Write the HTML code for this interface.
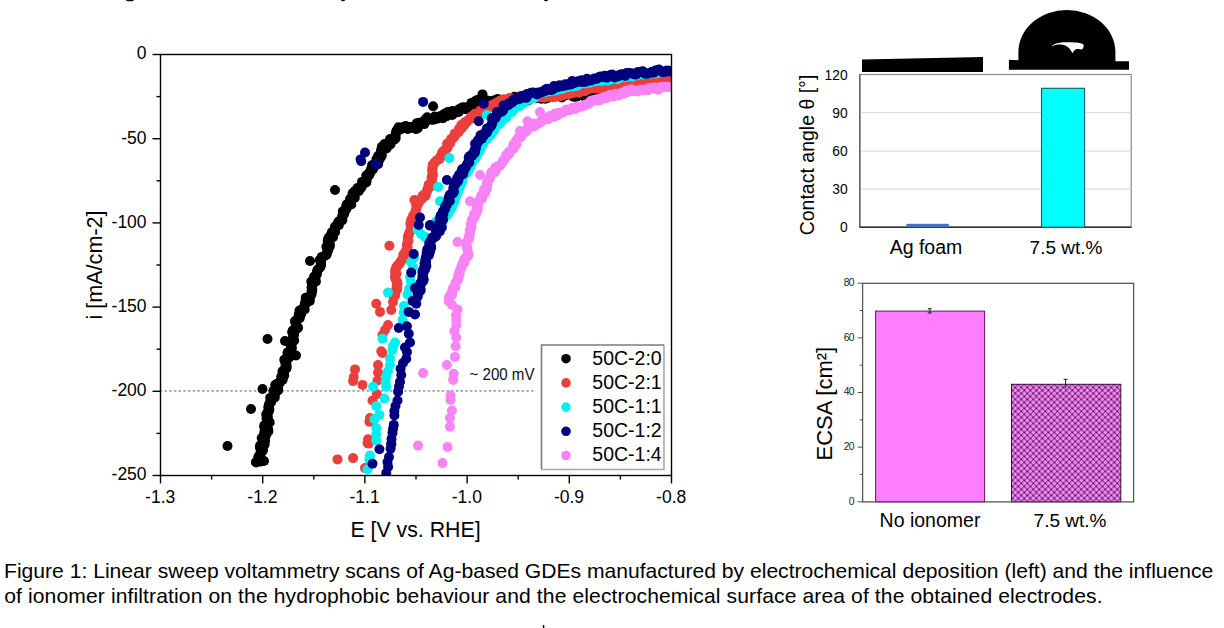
<!DOCTYPE html>
<html><head><meta charset="utf-8"><title>Figure 1</title>
<style>html,body{margin:0;padding:0;background:#fff;width:1224px;height:628px;overflow:hidden}
svg{display:block} text{font-family:"Liberation Sans",sans-serif}</style></head><body>
<svg width="1224" height="628" viewBox="0 0 1224 628">
<rect width="1224" height="628" fill="#fff"/>
<line x1="159.8" y1="390.8" x2="536" y2="390.8" stroke="#9a9fbd" stroke-width="1.8" stroke-dasharray="2.4 2.3"/>
<defs><clipPath id="plot"><rect x="160.5" y="54.5" width="511.0" height="421.0"/></clipPath></defs><g clip-path="url(#plot)">
<g fill="#000000"><circle cx="256.2" cy="462.5" r="5"/><circle cx="260.2" cy="461.6" r="5"/><circle cx="260.3" cy="459.6" r="5"/><circle cx="258.3" cy="457.0" r="5"/><circle cx="260.0" cy="455.5" r="5"/><circle cx="260.2" cy="453.6" r="5"/><circle cx="261.8" cy="452.0" r="5"/><circle cx="263.0" cy="450.3" r="5"/><circle cx="259.9" cy="447.5" r="5"/><circle cx="260.1" cy="445.5" r="5"/><circle cx="264.6" cy="444.6" r="5"/><circle cx="263.0" cy="442.3" r="5"/><circle cx="265.1" cy="440.8" r="5"/><circle cx="261.7" cy="438.0" r="5"/><circle cx="264.4" cy="436.6" r="5"/><circle cx="266.2" cy="435.0" r="5"/><circle cx="264.2" cy="432.6" r="5"/><circle cx="268.3" cy="431.4" r="5"/><circle cx="268.3" cy="429.5" r="5"/><circle cx="264.2" cy="427.0" r="5"/><circle cx="264.4" cy="425.3" r="5"/><circle cx="267.4" cy="423.9" r="5"/><circle cx="269.7" cy="422.4" r="5"/><circle cx="267.1" cy="420.2" r="5"/><circle cx="266.5" cy="418.3" r="5"/><circle cx="267.9" cy="416.7" r="5"/><circle cx="266.2" cy="414.5" r="5"/><circle cx="267.4" cy="412.9" r="5"/><circle cx="268.8" cy="411.3" r="5"/><circle cx="269.4" cy="409.6" r="5"/><circle cx="268.3" cy="407.6" r="5"/><circle cx="268.7" cy="405.5" r="5"/><circle cx="269.3" cy="403.7" r="5"/><circle cx="271.1" cy="402.3" r="5"/><circle cx="270.9" cy="400.2" r="5"/><circle cx="270.2" cy="397.9" r="5"/><circle cx="274.8" cy="397.5" r="5"/><circle cx="274.1" cy="395.2" r="5"/><circle cx="275.2" cy="393.5" r="5"/><circle cx="273.5" cy="390.9" r="5"/><circle cx="278.1" cy="390.5" r="5"/><circle cx="278.1" cy="388.4" r="5"/><circle cx="275.2" cy="385.1" r="5"/><circle cx="277.1" cy="383.8" r="5"/><circle cx="279.9" cy="382.8" r="5"/><circle cx="280.7" cy="381.0" r="5"/><circle cx="282.7" cy="379.7" r="5"/><circle cx="281.2" cy="376.7" r="5"/><circle cx="284.2" cy="375.5" r="5"/><circle cx="283.9" cy="373.5" r="5"/><circle cx="282.5" cy="371.2" r="5"/><circle cx="284.4" cy="369.8" r="5"/><circle cx="286.4" cy="368.4" r="5"/><circle cx="286.7" cy="366.6" r="5"/><circle cx="285.5" cy="364.3" r="5"/><circle cx="286.4" cy="362.6" r="5"/><circle cx="284.3" cy="359.9" r="5"/><circle cx="286.0" cy="358.3" r="5"/><circle cx="289.3" cy="357.4" r="5"/><circle cx="288.1" cy="354.9" r="5"/><circle cx="287.5" cy="352.6" r="5"/><circle cx="290.0" cy="351.3" r="5"/><circle cx="291.4" cy="349.7" r="5"/><circle cx="291.9" cy="347.7" r="5"/><circle cx="290.8" cy="345.5" r="5"/><circle cx="291.6" cy="343.8" r="5"/><circle cx="292.4" cy="342.0" r="5"/><circle cx="294.2" cy="340.5" r="5"/><circle cx="293.3" cy="338.4" r="5"/><circle cx="293.1" cy="336.4" r="5"/><circle cx="294.1" cy="334.7" r="5"/><circle cx="292.2" cy="332.3" r="5"/><circle cx="292.7" cy="330.6" r="5"/><circle cx="296.4" cy="329.3" r="5"/><circle cx="298.1" cy="327.7" r="5"/><circle cx="296.4" cy="325.5" r="5"/><circle cx="295.7" cy="323.4" r="5"/><circle cx="294.9" cy="321.3" r="5"/><circle cx="296.9" cy="319.8" r="5"/><circle cx="299.7" cy="318.3" r="5"/><circle cx="298.7" cy="316.8" r="5"/><circle cx="298.7" cy="314.6" r="5"/><circle cx="301.2" cy="313.9" r="5"/><circle cx="299.5" cy="310.6" r="5"/><circle cx="301.8" cy="309.8" r="5"/><circle cx="304.7" cy="309.5" r="5"/><circle cx="304.2" cy="306.9" r="5"/><circle cx="304.7" cy="305.0" r="5"/><circle cx="305.0" cy="302.9" r="5"/><circle cx="307.2" cy="302.1" r="5"/><circle cx="309.8" cy="300.9" r="5"/><circle cx="305.7" cy="297.7" r="5"/><circle cx="310.1" cy="297.1" r="5"/><circle cx="310.8" cy="295.4" r="5"/><circle cx="311.7" cy="293.7" r="5"/><circle cx="311.5" cy="291.7" r="5"/><circle cx="312.4" cy="290.0" r="5"/><circle cx="311.5" cy="287.8" r="5"/><circle cx="312.3" cy="286.1" r="5"/><circle cx="312.4" cy="284.1" r="5"/><circle cx="311.3" cy="281.6" r="5"/><circle cx="315.9" cy="281.4" r="5"/><circle cx="315.2" cy="279.0" r="5"/><circle cx="314.1" cy="276.5" r="5"/><circle cx="316.3" cy="275.3" r="5"/><circle cx="316.9" cy="273.5" r="5"/><circle cx="317.0" cy="271.4" r="5"/><circle cx="317.7" cy="269.6" r="5"/><circle cx="319.3" cy="268.2" r="5"/><circle cx="320.5" cy="266.6" r="5"/><circle cx="321.1" cy="264.8" r="5"/><circle cx="321.1" cy="262.7" r="5"/><circle cx="319.7" cy="260.1" r="5"/><circle cx="321.4" cy="258.7" r="5"/><circle cx="321.8" cy="256.9" r="5"/><circle cx="324.5" cy="256.0" r="5"/><circle cx="326.5" cy="254.8" r="5"/><circle cx="326.9" cy="252.9" r="5"/><circle cx="327.6" cy="251.2" r="5"/><circle cx="328.4" cy="249.5" r="5"/><circle cx="326.4" cy="246.7" r="5"/><circle cx="329.9" cy="246.1" r="5"/><circle cx="329.8" cy="244.0" r="5"/><circle cx="327.7" cy="241.1" r="5"/><circle cx="328.1" cy="239.3" r="5"/><circle cx="328.8" cy="237.5" r="5"/><circle cx="333.0" cy="237.2" r="5"/><circle cx="331.4" cy="234.3" r="5"/><circle cx="331.8" cy="232.3" r="5"/><circle cx="335.1" cy="232.0" r="5"/><circle cx="334.9" cy="229.6" r="5"/><circle cx="334.8" cy="227.1" r="5"/><circle cx="336.2" cy="225.7" r="5"/><circle cx="338.9" cy="225.1" r="5"/><circle cx="338.1" cy="222.4" r="5"/><circle cx="339.5" cy="220.9" r="5"/><circle cx="342.4" cy="220.1" r="5"/><circle cx="342.1" cy="217.8" r="5"/><circle cx="342.4" cy="215.7" r="5"/><circle cx="344.0" cy="214.2" r="5"/><circle cx="342.8" cy="211.4" r="5"/><circle cx="345.4" cy="210.5" r="5"/><circle cx="346.4" cy="208.7" r="5"/><circle cx="346.2" cy="206.4" r="5"/><circle cx="346.8" cy="204.4" r="5"/><circle cx="351.3" cy="204.5" r="5"/><circle cx="350.4" cy="201.8" r="5"/><circle cx="350.0" cy="199.1" r="5"/><circle cx="352.8" cy="198.8" r="5"/><circle cx="354.8" cy="197.8" r="5"/><circle cx="352.5" cy="193.9" r="5"/><circle cx="353.6" cy="192.3" r="5"/><circle cx="355.2" cy="191.1" r="5"/><circle cx="358.7" cy="191.3" r="5"/><circle cx="357.5" cy="188.0" r="5"/><circle cx="360.9" cy="188.1" r="5"/><circle cx="361.8" cy="186.4" r="5"/><circle cx="362.3" cy="184.4" r="5"/><circle cx="362.0" cy="181.9" r="5"/><circle cx="366.3" cy="182.4" r="5"/><circle cx="366.6" cy="180.3" r="5"/><circle cx="366.5" cy="177.9" r="5"/><circle cx="366.3" cy="175.5" r="5"/><circle cx="369.2" cy="175.1" r="5"/><circle cx="369.2" cy="172.7" r="5"/><circle cx="371.0" cy="171.6" r="5"/><circle cx="371.0" cy="169.3" r="5"/><circle cx="373.4" cy="168.6" r="5"/><circle cx="372.0" cy="165.3" r="5"/><circle cx="374.0" cy="164.6" r="5"/><circle cx="378.0" cy="164.3" r="5"/><circle cx="378.3" cy="162.4" r="5"/><circle cx="376.4" cy="159.4" r="5"/><circle cx="379.8" cy="158.9" r="5"/><circle cx="378.0" cy="156.0" r="5"/><circle cx="381.8" cy="155.6" r="5"/><circle cx="381.6" cy="153.5" r="5"/><circle cx="380.9" cy="151.0" r="5"/><circle cx="381.5" cy="149.0" r="5"/><circle cx="381.9" cy="146.8" r="5"/><circle cx="386.5" cy="148.4" r="5"/><circle cx="384.5" cy="144.1" r="5"/><circle cx="388.7" cy="145.4" r="5"/><circle cx="390.5" cy="144.5" r="5"/><circle cx="390.3" cy="141.8" r="5"/><circle cx="390.0" cy="139.0" r="5"/><circle cx="394.1" cy="139.8" r="5"/><circle cx="395.6" cy="138.4" r="5"/><circle cx="395.5" cy="136.0" r="5"/><circle cx="395.7" cy="133.8" r="5"/><circle cx="396.1" cy="131.7" r="5"/><circle cx="397.0" cy="130.0" r="5"/><circle cx="398.6" cy="127.2" r="5"/><circle cx="400.6" cy="129.5" r="5"/><circle cx="402.3" cy="128.1" r="5"/><circle cx="404.0" cy="126.7" r="5"/><circle cx="405.8" cy="126.1" r="5"/><circle cx="407.8" cy="128.9" r="5"/><circle cx="409.5" cy="126.9" r="5"/><circle cx="411.4" cy="127.8" r="5"/><circle cx="413.1" cy="126.7" r="5"/><circle cx="416.1" cy="129.1" r="5"/><circle cx="417.8" cy="128.1" r="5"/><circle cx="416.7" cy="123.3" r="5"/><circle cx="418.8" cy="122.9" r="5"/><circle cx="420.7" cy="122.4" r="5"/><circle cx="424.3" cy="124.1" r="5"/><circle cx="425.2" cy="122.1" r="5"/><circle cx="425.5" cy="119.2" r="5"/><circle cx="427.2" cy="117.3" r="5"/><circle cx="429.6" cy="119.3" r="5"/><circle cx="431.6" cy="119.7" r="5"/><circle cx="433.6" cy="119.8" r="5"/><circle cx="434.8" cy="116.5" r="5"/><circle cx="437.3" cy="118.8" r="5"/><circle cx="438.9" cy="117.5" r="5"/><circle cx="440.6" cy="116.0" r="5"/><circle cx="443.0" cy="118.2" r="5"/><circle cx="444.1" cy="114.0" r="5"/><circle cx="446.7" cy="116.1" r="5"/><circle cx="447.2" cy="112.3" r="5"/><circle cx="449.0" cy="112.0" r="5"/><circle cx="452.2" cy="114.9" r="5"/><circle cx="452.5" cy="110.9" r="5"/><circle cx="455.3" cy="112.8" r="5"/><circle cx="456.7" cy="111.4" r="5"/><circle cx="458.8" cy="111.9" r="5"/><circle cx="459.6" cy="108.9" r="5"/><circle cx="461.3" cy="108.1" r="5"/><circle cx="462.9" cy="107.2" r="5"/><circle cx="465.7" cy="109.3" r="5"/><circle cx="467.0" cy="107.3" r="5"/><circle cx="469.5" cy="108.2" r="5"/><circle cx="471.2" cy="107.2" r="5"/><circle cx="471.5" cy="102.9" r="5"/><circle cx="474.1" cy="104.1" r="5"/><circle cx="475.1" cy="101.3" r="5"/><circle cx="476.7" cy="100.2" r="5"/><circle cx="478.6" cy="99.7" r="5"/><circle cx="481.2" cy="102.9" r="5"/><circle cx="483.0" cy="102.6" r="5"/><circle cx="484.9" cy="102.8" r="5"/><circle cx="486.8" cy="100.4" r="5"/><circle cx="488.6" cy="101.8" r="5"/><circle cx="490.4" cy="102.8" r="5"/><circle cx="492.3" cy="100.7" r="5"/><circle cx="494.1" cy="101.8" r="5"/><circle cx="495.8" cy="100.1" r="5"/><circle cx="497.6" cy="99.1" r="5"/><circle cx="499.6" cy="99.9" r="5"/><circle cx="501.9" cy="102.9" r="5"/><circle cx="503.5" cy="101.0" r="5"/><circle cx="505.6" cy="102.6" r="5"/><circle cx="507.2" cy="100.0" r="5"/><circle cx="509.0" cy="98.8" r="5"/><circle cx="511.2" cy="101.2" r="5"/><circle cx="513.1" cy="101.2" r="5"/><circle cx="514.5" cy="96.8" r="5"/><circle cx="516.7" cy="100.0" r="5"/><circle cx="518.3" cy="96.8" r="5"/><circle cx="520.1" cy="96.7" r="5"/><circle cx="522.5" cy="100.4" r="5"/><circle cx="523.8" cy="95.8" r="5"/><circle cx="525.9" cy="96.7" r="5"/><circle cx="528.1" cy="100.4" r="5"/><circle cx="529.7" cy="97.3" r="5"/><circle cx="531.5" cy="95.5" r="5"/><circle cx="533.4" cy="95.6" r="5"/><circle cx="535.3" cy="95.8" r="5"/><circle cx="537.4" cy="98.3" r="5"/><circle cx="539.0" cy="94.8" r="5"/><circle cx="541.3" cy="98.8" r="5"/><circle cx="542.9" cy="95.9" r="5"/><circle cx="545.1" cy="98.8" r="5"/><circle cx="547.0" cy="98.3" r="5"/><circle cx="548.6" cy="94.9" r="5"/><circle cx="550.4" cy="94.6" r="5"/><circle cx="552.4" cy="95.5" r="5"/><circle cx="554.2" cy="93.4" r="5"/><circle cx="556.3" cy="96.1" r="5"/><circle cx="557.9" cy="92.8" r="5"/><circle cx="559.9" cy="92.5" r="5"/><circle cx="561.9" cy="97.4" r="5"/><circle cx="563.6" cy="93.8" r="5"/><circle cx="565.5" cy="95.2" r="5"/><circle cx="567.3" cy="94.4" r="5"/><circle cx="569.0" cy="93.6" r="5"/><circle cx="570.8" cy="92.2" r="5"/><circle cx="572.8" cy="96.5" r="5"/><circle cx="574.7" cy="96.7" r="5"/><circle cx="576.5" cy="96.6" r="5"/><circle cx="578.1" cy="92.1" r="5"/><circle cx="579.9" cy="92.5" r="5"/><circle cx="581.8" cy="94.5" r="5"/><circle cx="583.8" cy="96.3" r="5"/><circle cx="585.5" cy="94.0" r="5"/><circle cx="587.3" cy="94.6" r="5"/><circle cx="589.1" cy="94.4" r="5"/><circle cx="590.8" cy="92.2" r="5"/><circle cx="592.7" cy="93.6" r="5"/><circle cx="594.5" cy="92.3" r="5"/><circle cx="596.3" cy="91.9" r="5"/><circle cx="598.1" cy="90.9" r="5"/><circle cx="600" cy="93" r="5"/></g>
<g fill="#000000"><circle cx="335" cy="190" r="5"/><circle cx="433.1" cy="106.25" r="5"/><circle cx="310" cy="261" r="5"/><circle cx="267.5" cy="339" r="5"/><circle cx="285" cy="341" r="5"/><circle cx="296" cy="355.5" r="5"/><circle cx="262.5" cy="389" r="5"/><circle cx="251" cy="409" r="5"/><circle cx="227.5" cy="446" r="5"/><circle cx="256" cy="462" r="5"/><circle cx="264" cy="461" r="5"/><circle cx="482.5" cy="94.4" r="5"/></g>
<g fill="#eb3f3d"><circle cx="669.9" cy="78.4" r="5"/><circle cx="667.8" cy="78.7" r="5"/><circle cx="666.1" cy="81.2" r="5"/><circle cx="664.1" cy="81.4" r="5"/><circle cx="661.8" cy="79.7" r="5"/><circle cx="659.8" cy="80.2" r="5"/><circle cx="657.8" cy="80.6" r="5"/><circle cx="655.9" cy="81.8" r="5"/><circle cx="653.8" cy="81.3" r="5"/><circle cx="651.7" cy="81.6" r="5"/><circle cx="649.7" cy="81.9" r="5"/><circle cx="647.8" cy="83.2" r="5"/><circle cx="645.7" cy="82.7" r="5"/><circle cx="643.7" cy="83.1" r="5"/><circle cx="641.6" cy="82.5" r="5"/><circle cx="639.4" cy="82.0" r="5"/><circle cx="637.4" cy="82.4" r="5"/><circle cx="635.5" cy="83.7" r="5"/><circle cx="633.5" cy="84.2" r="5"/><circle cx="631.6" cy="84.9" r="5"/><circle cx="629.6" cy="85.7" r="5"/><circle cx="627.6" cy="86.0" r="5"/><circle cx="625.4" cy="85.1" r="5"/><circle cx="623.5" cy="85.8" r="5"/><circle cx="621.4" cy="85.8" r="5"/><circle cx="619.2" cy="84.8" r="5"/><circle cx="617.3" cy="86.0" r="5"/><circle cx="615.3" cy="86.1" r="5"/><circle cx="613.3" cy="87.2" r="5"/><circle cx="611.4" cy="88.0" r="5"/><circle cx="609.3" cy="87.5" r="5"/><circle cx="607.3" cy="88.2" r="5"/><circle cx="605.2" cy="87.5" r="5"/><circle cx="603.0" cy="86.5" r="5"/><circle cx="601.1" cy="87.6" r="5"/><circle cx="599.2" cy="89.1" r="5"/><circle cx="596.9" cy="87.5" r="5"/><circle cx="594.9" cy="88.0" r="5"/><circle cx="592.9" cy="88.4" r="5"/><circle cx="590.8" cy="88.4" r="5"/><circle cx="588.8" cy="89.2" r="5"/><circle cx="586.8" cy="89.5" r="5"/><circle cx="585.0" cy="91.1" r="5"/><circle cx="582.6" cy="89.9" r="5"/><circle cx="580.6" cy="90.4" r="5"/><circle cx="579.0" cy="92.8" r="5"/><circle cx="576.7" cy="91.8" r="5"/><circle cx="574.7" cy="92.3" r="5"/><circle cx="572.8" cy="93.3" r="5"/><circle cx="570.7" cy="93.6" r="5"/><circle cx="568.7" cy="94.1" r="5"/><circle cx="566.4" cy="93.4" r="5"/><circle cx="564.6" cy="94.9" r="5"/><circle cx="562.4" cy="94.5" r="5"/><circle cx="560.7" cy="96.2" r="5"/><circle cx="558.4" cy="95.3" r="5"/><circle cx="556.3" cy="95.6" r="5"/><circle cx="554.5" cy="97.2" r="5"/><circle cx="552.5" cy="97.3" r="5"/><circle cx="550.5" cy="96.3" r="5"/><circle cx="548.4" cy="96.6" r="5"/><circle cx="546.4" cy="97.1" r="5"/><circle cx="544.3" cy="97.7" r="5"/><circle cx="542.2" cy="97.3" r="5"/><circle cx="540.3" cy="96.2" r="5"/><circle cx="538.1" cy="97.4" r="5"/><circle cx="536.2" cy="95.4" r="5"/><circle cx="534.1" cy="96.9" r="5"/><circle cx="532.1" cy="95.1" r="5"/><circle cx="530.1" cy="96.5" r="5"/><circle cx="527.8" cy="95.1" r="5"/><circle cx="525.9" cy="96.1" r="5"/><circle cx="524.0" cy="96.9" r="5"/><circle cx="522.0" cy="97.2" r="5"/><circle cx="519.9" cy="97.1" r="5"/><circle cx="518.0" cy="97.6" r="5"/><circle cx="516.1" cy="98.6" r="5"/><circle cx="514.1" cy="99.2" r="5"/><circle cx="512.0" cy="98.7" r="5"/><circle cx="509.8" cy="98.0" r="5"/><circle cx="508.0" cy="99.1" r="5"/><circle cx="506.2" cy="100.8" r="5"/><circle cx="503.7" cy="99.2" r="5"/><circle cx="501.8" cy="100.4" r="5"/><circle cx="499.6" cy="100.8" r="5"/><circle cx="498.3" cy="103.4" r="5"/><circle cx="495.7" cy="103.0" r="5"/><circle cx="494.5" cy="105.5" r="5"/><circle cx="491.8" cy="105.0" r="5"/><circle cx="490.2" cy="106.8" r="5"/><circle cx="488.3" cy="107.8" r="5"/><circle cx="485.5" cy="107.2" r="5"/><circle cx="484.8" cy="110.0" r="5"/><circle cx="482.4" cy="110.2" r="5"/><circle cx="480.2" cy="110.6" r="5"/><circle cx="479.2" cy="113.0" r="5"/><circle cx="477.5" cy="114.2" r="5"/><circle cx="474.8" cy="113.8" r="5"/><circle cx="473.7" cy="115.9" r="5"/><circle cx="471.5" cy="116.4" r="5"/><circle cx="470.8" cy="118.9" r="5"/><circle cx="468.6" cy="119.8" r="5"/><circle cx="467.2" cy="121.6" r="5"/><circle cx="464.7" cy="122.2" r="5"/><circle cx="464.4" cy="124.9" r="5"/><circle cx="461.3" cy="125.1" r="5"/><circle cx="461.8" cy="128.3" r="5"/><circle cx="459.0" cy="128.8" r="5"/><circle cx="459.0" cy="131.6" r="5"/><circle cx="457.2" cy="132.9" r="5"/><circle cx="454.7" cy="133.6" r="5"/><circle cx="454.6" cy="136.4" r="5"/><circle cx="453.2" cy="137.9" r="5"/><circle cx="451.0" cy="139.0" r="5"/><circle cx="450.6" cy="141.1" r="5"/><circle cx="450.2" cy="143.3" r="5"/><circle cx="447.1" cy="143.7" r="5"/><circle cx="447.8" cy="146.6" r="5"/><circle cx="447.0" cy="148.5" r="5"/><circle cx="445.2" cy="149.7" r="5"/><circle cx="443.5" cy="151.1" r="5"/><circle cx="442.0" cy="152.6" r="5"/><circle cx="442.1" cy="155.3" r="5"/><circle cx="440.3" cy="156.7" r="5"/><circle cx="439.7" cy="158.8" r="5"/><circle cx="437.6" cy="159.9" r="5"/><circle cx="435.7" cy="161.2" r="5"/><circle cx="434.5" cy="162.9" r="5"/><circle cx="432.7" cy="164.8" r="5"/><circle cx="432.8" cy="166.9" r="5"/><circle cx="432.2" cy="168.9" r="5"/><circle cx="432.3" cy="171.0" r="5"/><circle cx="432.6" cy="173.1" r="5"/><circle cx="432.9" cy="175.3" r="5"/><circle cx="431.5" cy="177.1" r="5"/><circle cx="432.0" cy="179.3" r="5"/><circle cx="432.2" cy="181.7" r="5"/><circle cx="430.5" cy="183.3" r="5"/><circle cx="428.6" cy="184.8" r="5"/><circle cx="429.5" cy="187.5" r="5"/><circle cx="427.5" cy="189.0" r="5"/><circle cx="427.0" cy="191.2" r="5"/><circle cx="425.9" cy="193.0" r="5"/><circle cx="425.7" cy="195.7" r="5"/><circle cx="422.7" cy="195.6" r="5"/><circle cx="422.5" cy="198.4" r="5"/><circle cx="420.4" cy="199.2" r="5"/><circle cx="419.3" cy="201.0" r="5"/><circle cx="418.6" cy="203.2" r="5"/><circle cx="416.1" cy="203.7" r="5"/><circle cx="416.7" cy="206.0" r="5"/><circle cx="416.4" cy="208.1" r="5"/><circle cx="416.0" cy="210.1" r="5"/><circle cx="415.2" cy="212.1" r="5"/><circle cx="414.9" cy="214.1" r="5"/><circle cx="413.1" cy="215.9" r="5"/><circle cx="412.9" cy="218.0" r="5"/><circle cx="411.3" cy="219.7" r="5"/><circle cx="410.9" cy="221.8" r="5"/><circle cx="410.3" cy="223.8" r="5"/><circle cx="411.8" cy="226.3" r="5"/><circle cx="410.8" cy="228.3" r="5"/><circle cx="410.8" cy="230.5" r="5"/><circle cx="409.5" cy="232.3" r="5"/><circle cx="408.9" cy="234.4" r="5"/><circle cx="408.0" cy="236.3" r="5"/><circle cx="407.8" cy="238.4" r="5"/><circle cx="408.4" cy="240.8" r="5"/><circle cx="407.5" cy="242.7" r="5"/><circle cx="406.8" cy="244.7" r="5"/><circle cx="407.7" cy="247.1" r="5"/><circle cx="407.1" cy="249.1" r="5"/><circle cx="405.7" cy="251.0" r="5"/><circle cx="405.9" cy="253.5" r="5"/><circle cx="403.4" cy="254.5" r="5"/><circle cx="403.4" cy="257.0" r="5"/><circle cx="402.6" cy="259.0" r="5"/><circle cx="401.3" cy="260.8" r="5"/><circle cx="400.0" cy="262.5" r="5"/><circle cx="399.0" cy="264.4" r="5"/><circle cx="397.2" cy="265.8" r="5"/><circle cx="396.2" cy="267.7" r="5"/><circle cx="395.5" cy="269.4" r="5"/><circle cx="395.0" cy="271.7" r="5"/><circle cx="396.5" cy="273.7" r="5"/><circle cx="395.0" cy="276.1" r="5"/><circle cx="395.2" cy="278.3" r="5"/><circle cx="396.2" cy="280.3" r="5"/><circle cx="397.3" cy="282.3" r="5"/><circle cx="397.5" cy="284.5" r="5"/><circle cx="396.7" cy="286.5" r="5"/><circle cx="397.4" cy="289.0" r="5"/><circle cx="395.8" cy="290.8" r="5"/><circle cx="394.9" cy="292.8" r="5"/><circle cx="395.2" cy="295.2" r="5"/><circle cx="393.75" cy="297" r="5"/></g>
<g fill="#eb3f3d"><circle cx="389.4" cy="245.75" r="5"/><circle cx="414.4" cy="200" r="5"/><circle cx="376.25" cy="303.75" r="5"/><circle cx="380" cy="311.9" r="5"/><circle cx="393" cy="302" r="5"/><circle cx="391.25" cy="310" r="5"/><circle cx="388" cy="325" r="5"/><circle cx="382.5" cy="335" r="5"/><circle cx="381.25" cy="351.25" r="5"/><circle cx="382.5" cy="353" r="5"/><circle cx="378" cy="365" r="5"/><circle cx="378" cy="372.5" r="5"/><circle cx="355" cy="369.4" r="5"/><circle cx="353.75" cy="377" r="5"/><circle cx="353.1" cy="381.1" r="5"/><circle cx="362.5" cy="384.9" r="5"/><circle cx="377.5" cy="380.5" r="5"/><circle cx="376.9" cy="394.25" r="5"/><circle cx="372.5" cy="400.5" r="5"/><circle cx="370" cy="418" r="5"/><circle cx="369.4" cy="421.75" r="5"/><circle cx="368.1" cy="439.25" r="5"/><circle cx="368.75" cy="443.6" r="5"/><circle cx="337.5" cy="459.4" r="5"/><circle cx="353.1" cy="458.1" r="5"/><circle cx="365" cy="468.1" r="5"/><circle cx="367.5" cy="443.1" r="5"/><circle cx="385" cy="330" r="5"/></g>
<g fill="#00f0f0"><circle cx="670.1" cy="70.5" r="5"/><circle cx="667.5" cy="70.3" r="5"/><circle cx="665.0" cy="71.1" r="5"/><circle cx="662.5" cy="71.0" r="5"/><circle cx="660.0" cy="71.4" r="5"/><circle cx="657.6" cy="72.9" r="5"/><circle cx="655.2" cy="73.4" r="5"/><circle cx="652.4" cy="72.1" r="5"/><circle cx="650.1" cy="73.7" r="5"/><circle cx="647.6" cy="74.1" r="5"/><circle cx="644.8" cy="73.0" r="5"/><circle cx="642.5" cy="74.5" r="5"/><circle cx="639.9" cy="74.1" r="5"/><circle cx="637.5" cy="75.2" r="5"/><circle cx="635.0" cy="75.3" r="5"/><circle cx="632.6" cy="76.7" r="5"/><circle cx="630.0" cy="76.1" r="5"/><circle cx="627.4" cy="76.1" r="5"/><circle cx="625.0" cy="77.2" r="5"/><circle cx="622.4" cy="77.1" r="5"/><circle cx="619.9" cy="77.7" r="5"/><circle cx="617.6" cy="79.2" r="5"/><circle cx="614.9" cy="78.2" r="5"/><circle cx="612.5" cy="78.9" r="5"/><circle cx="610.1" cy="79.9" r="5"/><circle cx="607.6" cy="80.8" r="5"/><circle cx="604.9" cy="79.5" r="5"/><circle cx="602.5" cy="80.7" r="5"/><circle cx="599.9" cy="80.6" r="5"/><circle cx="597.4" cy="80.6" r="5"/><circle cx="594.9" cy="81.3" r="5"/><circle cx="592.4" cy="81.3" r="5"/><circle cx="590.0" cy="82.7" r="5"/><circle cx="587.4" cy="82.3" r="5"/><circle cx="585.0" cy="83.4" r="5"/><circle cx="582.4" cy="82.8" r="5"/><circle cx="579.8" cy="83.3" r="5"/><circle cx="577.7" cy="85.4" r="5"/><circle cx="575.2" cy="86.0" r="5"/><circle cx="572.6" cy="86.4" r="5"/><circle cx="569.8" cy="85.6" r="5"/><circle cx="567.5" cy="87.2" r="5"/><circle cx="564.9" cy="87.5" r="5"/><circle cx="562.6" cy="88.8" r="5"/><circle cx="560.0" cy="89.0" r="5"/><circle cx="557.6" cy="89.8" r="5"/><circle cx="555.1" cy="90.5" r="5"/><circle cx="552.5" cy="90.7" r="5"/><circle cx="550.0" cy="91.3" r="5"/><circle cx="547.3" cy="91.3" r="5"/><circle cx="544.9" cy="92.4" r="5"/><circle cx="542.3" cy="92.5" r="5"/><circle cx="539.7" cy="93.4" r="5"/><circle cx="537.2" cy="94.4" r="5"/><circle cx="535.3" cy="96.2" r="5"/><circle cx="533.5" cy="98.4" r="5"/><circle cx="530.6" cy="98.5" r="5"/><circle cx="528.2" cy="99.6" r="5"/><circle cx="526.0" cy="100.9" r="5"/><circle cx="524.0" cy="102.8" r="5"/><circle cx="521.6" cy="103.8" r="5"/><circle cx="519.8" cy="106.0" r="5"/><circle cx="516.9" cy="106.1" r="5"/><circle cx="514.9" cy="107.9" r="5"/><circle cx="513.4" cy="110.1" r="5"/><circle cx="511.9" cy="112.2" r="5"/><circle cx="508.9" cy="112.9" r="5"/><circle cx="506.8" cy="114.5" r="5"/><circle cx="506.2" cy="117.6" r="5"/><circle cx="503.3" cy="118.4" r="5"/><circle cx="502.0" cy="120.7" r="5"/><circle cx="500.5" cy="122.9" r="5"/><circle cx="498.4" cy="124.5" r="5"/><circle cx="495.8" cy="125.7" r="5"/><circle cx="494.1" cy="127.7" r="5"/><circle cx="494.0" cy="130.7" r="5"/><circle cx="491.6" cy="132.2" r="5"/><circle cx="491.0" cy="134.9" r="5"/><circle cx="488.4" cy="136.2" r="5"/><circle cx="487.5" cy="138.8" r="5"/><circle cx="485.1" cy="140.3" r="5"/><circle cx="483.5" cy="142.2" r="5"/><circle cx="482.7" cy="144.9" r="5"/><circle cx="480.4" cy="146.5" r="5"/><circle cx="480.2" cy="149.6" r="5"/><circle cx="479.2" cy="152.2" r="5"/><circle cx="476.9" cy="154.0" r="5"/><circle cx="476.4" cy="157.0" r="5"/><circle cx="474.7" cy="159.2" r="5"/><circle cx="473.0" cy="161.3" r="5"/><circle cx="471.2" cy="163.5" r="5"/><circle cx="470.6" cy="166.3" r="5"/><circle cx="469.6" cy="168.8" r="5"/><circle cx="466.9" cy="170.3" r="5"/><circle cx="466.6" cy="173.2" r="5"/><circle cx="464.2" cy="174.9" r="5"/><circle cx="463.1" cy="177.3" r="5"/><circle cx="462.7" cy="180.1" r="5"/><circle cx="461.6" cy="182.5" r="5"/><circle cx="460.6" cy="185.0" r="5"/><circle cx="459.4" cy="187.4" r="5"/><circle cx="458.6" cy="189.9" r="5"/><circle cx="457.7" cy="192.5" r="5"/><circle cx="456.7" cy="194.9" r="5"/><circle cx="455.1" cy="197.2" r="5"/><circle cx="455.0" cy="200.0" r="5"/><circle cx="454.0" cy="202.4" r="5"/><circle cx="452.3" cy="204.5" r="5"/><circle cx="452.0" cy="207.2" r="5"/><circle cx="450.7" cy="209.5" r="5"/><circle cx="448.3" cy="211.2" r="5"/><circle cx="448" cy="214" r="5"/></g>
<g fill="#00f0f0"><circle cx="425" cy="237" r="5"/><circle cx="421" cy="234" r="5"/><circle cx="414" cy="258" r="5"/><circle cx="411" cy="262" r="5"/><circle cx="413" cy="267" r="5"/><circle cx="410" cy="277" r="5"/><circle cx="411" cy="282" r="5"/><circle cx="409" cy="289" r="5"/><circle cx="407.5" cy="294.5" r="5"/><circle cx="404" cy="306" r="5"/><circle cx="449.4" cy="158.1" r="5"/><circle cx="438.1" cy="186.9" r="5"/><circle cx="440" cy="201.25" r="5"/><circle cx="446.25" cy="216.25" r="5"/><circle cx="436.25" cy="221.25" r="5"/><circle cx="417.5" cy="229.5" r="5"/><circle cx="486.9" cy="115" r="5"/><circle cx="388" cy="292.6" r="5"/><circle cx="442.5" cy="222" r="5"/><circle cx="403.75" cy="312.5" r="5"/><circle cx="402.5" cy="320" r="5"/><circle cx="382.5" cy="338.75" r="5"/><circle cx="395" cy="342.5" r="5"/><circle cx="392.5" cy="350" r="5"/><circle cx="390" cy="358.75" r="5"/><circle cx="390" cy="365" r="5"/><circle cx="386.25" cy="376.25" r="5"/><circle cx="373.1" cy="386.75" r="5"/><circle cx="385.6" cy="381.75" r="5"/><circle cx="386.25" cy="386.75" r="5"/><circle cx="384.4" cy="398.6" r="5"/><circle cx="376.25" cy="406.1" r="5"/><circle cx="379.4" cy="414.9" r="5"/><circle cx="374.4" cy="419.25" r="5"/><circle cx="376.25" cy="428" r="5"/><circle cx="376.25" cy="434.25" r="5"/><circle cx="376.25" cy="440.5" r="5"/><circle cx="370" cy="455.5" r="5"/><circle cx="369.4" cy="459.4" r="5"/><circle cx="367.5" cy="469.4" r="5"/><circle cx="393" cy="346" r="5"/><circle cx="388" cy="371" r="5"/></g>
<g fill="#00007e"><circle cx="670.1" cy="70.9" r="5"/><circle cx="668.3" cy="71.6" r="5"/><circle cx="666.4" cy="70.7" r="5"/><circle cx="664.7" cy="71.8" r="5"/><circle cx="663.0" cy="72.3" r="5"/><circle cx="661.0" cy="71.3" r="5"/><circle cx="659.0" cy="69.6" r="5"/><circle cx="657.3" cy="70.2" r="5"/><circle cx="655.5" cy="70.5" r="5"/><circle cx="653.9" cy="72.6" r="5"/><circle cx="652.0" cy="71.7" r="5"/><circle cx="650.3" cy="72.8" r="5"/><circle cx="648.5" cy="73.4" r="5"/><circle cx="646.7" cy="73.8" r="5"/><circle cx="644.9" cy="73.6" r="5"/><circle cx="642.8" cy="71.2" r="5"/><circle cx="641.1" cy="71.7" r="5"/><circle cx="639.3" cy="72.0" r="5"/><circle cx="637.5" cy="72.2" r="5"/><circle cx="635.9" cy="74.6" r="5"/><circle cx="634.1" cy="74.3" r="5"/><circle cx="632.2" cy="73.4" r="5"/><circle cx="630.3" cy="73.2" r="5"/><circle cx="628.5" cy="72.9" r="5"/><circle cx="626.7" cy="73.0" r="5"/><circle cx="625.1" cy="76.0" r="5"/><circle cx="623.2" cy="74.4" r="5"/><circle cx="621.3" cy="74.3" r="5"/><circle cx="619.6" cy="75.1" r="5"/><circle cx="618.0" cy="76.5" r="5"/><circle cx="616.0" cy="75.7" r="5"/><circle cx="614.4" cy="77.4" r="5"/><circle cx="612.1" cy="74.6" r="5"/><circle cx="610.4" cy="75.1" r="5"/><circle cx="608.7" cy="76.5" r="5"/><circle cx="607.0" cy="77.7" r="5"/><circle cx="604.9" cy="75.8" r="5"/><circle cx="603.3" cy="77.3" r="5"/><circle cx="601.3" cy="76.4" r="5"/><circle cx="599.5" cy="76.8" r="5"/><circle cx="597.9" cy="78.3" r="5"/><circle cx="596.1" cy="78.9" r="5"/><circle cx="594.2" cy="78.5" r="5"/><circle cx="592.5" cy="79.4" r="5"/><circle cx="590.8" cy="80.6" r="5"/><circle cx="588.9" cy="80.4" r="5"/><circle cx="586.9" cy="78.8" r="5"/><circle cx="585.5" cy="81.8" r="5"/><circle cx="583.7" cy="82.1" r="5"/><circle cx="581.5" cy="80.3" r="5"/><circle cx="580.0" cy="81.8" r="5"/><circle cx="577.9" cy="81.3" r="5"/><circle cx="576.2" cy="82.0" r="5"/><circle cx="574.5" cy="82.9" r="5"/><circle cx="572.1" cy="81.1" r="5"/><circle cx="571.0" cy="84.4" r="5"/><circle cx="569.0" cy="84.1" r="5"/><circle cx="567.3" cy="85.3" r="5"/><circle cx="565.1" cy="84.3" r="5"/><circle cx="563.6" cy="86.0" r="5"/><circle cx="561.7" cy="86.2" r="5"/><circle cx="559.6" cy="85.3" r="5"/><circle cx="558.1" cy="87.2" r="5"/><circle cx="556.1" cy="86.9" r="5"/><circle cx="554.0" cy="86.1" r="5"/><circle cx="552.9" cy="89.4" r="5"/><circle cx="551.2" cy="90.0" r="5"/><circle cx="549.2" cy="90.0" r="5"/><circle cx="546.9" cy="88.7" r="5"/><circle cx="545.2" cy="89.7" r="5"/><circle cx="543.8" cy="91.6" r="5"/><circle cx="542.0" cy="91.8" r="5"/><circle cx="540.3" cy="92.9" r="5"/><circle cx="538.3" cy="92.4" r="5"/><circle cx="536.9" cy="94.4" r="5"/><circle cx="534.4" cy="92.7" r="5"/><circle cx="532.4" cy="92.5" r="5"/><circle cx="530.6" cy="92.9" r="5"/><circle cx="529.0" cy="94.2" r="5"/><circle cx="526.9" cy="94.0" r="5"/><circle cx="526.4" cy="97.8" r="5"/><circle cx="524.4" cy="97.6" r="5"/><circle cx="521.8" cy="96.0" r="5"/><circle cx="520.3" cy="97.3" r="5"/><circle cx="519.1" cy="99.2" r="5"/><circle cx="516.7" cy="98.1" r="5"/><circle cx="515.4" cy="99.9" r="5"/><circle cx="513.4" cy="99.9" r="5"/><circle cx="512.4" cy="102.3" r="5"/><circle cx="510.9" cy="103.3" r="5"/><circle cx="508.9" cy="103.2" r="5"/><circle cx="508.2" cy="105.2" r="5"/><circle cx="506.3" cy="105.8" r="5"/><circle cx="503.5" cy="105.4" r="5"/><circle cx="503.6" cy="108.3" r="5"/><circle cx="503.0" cy="110.4" r="5"/><circle cx="501.5" cy="111.6" r="5"/><circle cx="499.8" cy="112.4" r="5"/><circle cx="497.0" cy="112.0" r="5"/><circle cx="496.7" cy="114.3" r="5"/><circle cx="495.9" cy="116.0" r="5"/><circle cx="495.6" cy="118.0" r="5"/><circle cx="491.8" cy="118.0" r="5"/><circle cx="492.6" cy="120.7" r="5"/><circle cx="492.3" cy="122.7" r="5"/><circle cx="491.8" cy="124.6" r="5"/><circle cx="490.8" cy="126.3" r="5"/><circle cx="489.5" cy="127.7" r="5"/><circle cx="487.0" cy="128.4" r="5"/><circle cx="487.4" cy="131.0" r="5"/><circle cx="486.6" cy="132.8" r="5"/><circle cx="484.2" cy="133.4" r="5"/><circle cx="483.8" cy="135.4" r="5"/><circle cx="480.5" cy="135.3" r="5"/><circle cx="481.9" cy="138.7" r="5"/><circle cx="479.6" cy="139.4" r="5"/><circle cx="477.8" cy="140.4" r="5"/><circle cx="477.8" cy="142.6" r="5"/><circle cx="475.1" cy="143.7" r="5"/><circle cx="475.9" cy="146.3" r="5"/><circle cx="475.8" cy="148.5" r="5"/><circle cx="474.5" cy="150.1" r="5"/><circle cx="474.9" cy="152.6" r="5"/><circle cx="472.7" cy="153.9" r="5"/><circle cx="472.3" cy="155.8" r="5"/><circle cx="469.4" cy="156.2" r="5"/><circle cx="468.7" cy="157.8" r="5"/><circle cx="468.8" cy="160.0" r="5"/><circle cx="469.3" cy="162.4" r="5"/><circle cx="467.6" cy="163.6" r="5"/><circle cx="466.7" cy="165.2" r="5"/><circle cx="465.9" cy="166.7" r="5"/><circle cx="465.0" cy="168.5" r="5"/><circle cx="462.0" cy="169.2" r="5"/><circle cx="463.5" cy="172.2" r="5"/><circle cx="462.9" cy="174.1" r="5"/><circle cx="459.2" cy="174.5" r="5"/><circle cx="459.4" cy="176.9" r="5"/><circle cx="457.2" cy="178.0" r="5"/><circle cx="458.2" cy="180.7" r="5"/><circle cx="455.7" cy="181.7" r="5"/><circle cx="455.6" cy="183.9" r="5"/><circle cx="454.2" cy="185.4" r="5"/><circle cx="453.5" cy="187.3" r="5"/><circle cx="453.4" cy="189.5" r="5"/><circle cx="453.9" cy="191.7" r="5"/><circle cx="452.9" cy="193.5" r="5"/><circle cx="450.0" cy="194.6" r="5"/><circle cx="449.3" cy="196.4" r="5"/><circle cx="448.5" cy="198.3" r="5"/><circle cx="449.9" cy="200.8" r="5"/><circle cx="448.3" cy="202.2" r="5"/><circle cx="446.9" cy="203.6" r="5"/><circle cx="446.5" cy="205.5" r="5"/><circle cx="445.1" cy="206.8" r="5"/><circle cx="445.1" cy="208.9" r="5"/><circle cx="443.8" cy="210.3" r="5"/><circle cx="442.8" cy="211.8" r="5"/><circle cx="443.3" cy="213.9" r="5"/><circle cx="440.7" cy="215.4" r="5"/><circle cx="440.3" cy="217.3" r="5"/><circle cx="443.1" cy="219.7" r="5"/><circle cx="439.6" cy="221.1" r="5"/><circle cx="439.3" cy="223.0" r="5"/><circle cx="440.0" cy="225.1" r="5"/><circle cx="441.9" cy="227.4" r="5"/><circle cx="438.9" cy="228.1" r="5"/><circle cx="439.8" cy="231.4" r="5"/><circle cx="436.2" cy="230.9" r="5"/><circle cx="435.8" cy="233.1" r="5"/><circle cx="436.2" cy="236.0" r="5"/><circle cx="434.7" cy="237.3" r="5"/><circle cx="432.0" cy="237.8" r="5"/><circle cx="431.6" cy="239.8" r="5"/><circle cx="430.4" cy="241.6" r="5"/><circle cx="429.2" cy="243.3" r="5"/><circle cx="431.0" cy="246.0" r="5"/><circle cx="431.1" cy="248.1" r="5"/><circle cx="427.3" cy="249.2" r="5"/><circle cx="430.1" cy="251.6" r="5"/><circle cx="426.7" cy="252.8" r="5"/><circle cx="429.0" cy="255.1" r="5"/><circle cx="426.2" cy="256.4" r="5"/><circle cx="426.0" cy="258.2" r="5"/><circle cx="425.3" cy="259.9" r="5"/><circle cx="426.1" cy="262.0" r="5"/><circle cx="424.5" cy="263.5" r="5"/><circle cx="426.4" cy="266.0" r="5"/><circle cx="424.2" cy="267.5" r="5"/><circle cx="425.0" cy="269.6" r="5"/><circle cx="422.5" cy="271.0" r="5"/><circle cx="422.5" cy="273.0" r="5"/><circle cx="423.1" cy="275.1" r="5"/><circle cx="422.4" cy="277.0" r="5"/><circle cx="423.7" cy="279.2" r="5"/><circle cx="423.3" cy="281.0" r="5"/><circle cx="420.9" cy="282.4" r="5"/><circle cx="420.9" cy="284.3" r="5"/><circle cx="419.1" cy="285.9" r="5"/><circle cx="419.6" cy="287.9" r="5"/><circle cx="420.8" cy="290.1" r="5"/><circle cx="419.5" cy="291.7" r="5"/><circle cx="417.6" cy="293.1" r="5"/><circle cx="417.9" cy="295.2" r="5"/><circle cx="417.5" cy="297" r="5"/></g>
<g fill="#00007e"><circle cx="483.75" cy="103.75" r="5"/><circle cx="478.75" cy="121.25" r="5"/><circle cx="446.9" cy="180" r="5"/><circle cx="420" cy="217.5" r="5"/><circle cx="430" cy="225" r="5"/><circle cx="440" cy="226.25" r="5"/><circle cx="418.75" cy="225" r="5"/><circle cx="430" cy="225.75" r="5"/><circle cx="413.75" cy="254" r="5"/><circle cx="411.25" cy="272.6" r="5"/><circle cx="415" cy="288" r="5"/><circle cx="416.25" cy="303.75" r="5"/><circle cx="412.5" cy="301" r="5"/><circle cx="408.75" cy="311.9" r="5"/><circle cx="415" cy="314.4" r="5"/><circle cx="398.75" cy="328" r="5"/><circle cx="406.9" cy="326.25" r="5"/><circle cx="408.75" cy="333.75" r="5"/><circle cx="410" cy="342.5" r="5"/><circle cx="405" cy="347.5" r="5"/><circle cx="406.25" cy="358.75" r="5"/><circle cx="400.6" cy="368.75" r="5"/><circle cx="401.25" cy="375" r="5"/><circle cx="400" cy="381.75" r="5"/><circle cx="398.1" cy="391.75" r="5"/><circle cx="397.5" cy="400.5" r="5"/><circle cx="394.4" cy="411.1" r="5"/><circle cx="394.4" cy="415.5" r="5"/><circle cx="393.75" cy="424.9" r="5"/><circle cx="392.5" cy="433" r="5"/><circle cx="391.25" cy="444.25" r="5"/><circle cx="390.6" cy="448.6" r="5"/><circle cx="379.4" cy="449.25" r="5"/><circle cx="372.5" cy="463.75" r="5"/><circle cx="388.1" cy="466.9" r="5"/><circle cx="386.25" cy="473.1" r="5"/><circle cx="391.25" cy="443.75" r="5"/><circle cx="399" cy="386.5" r="5"/><circle cx="395.5" cy="406" r="5"/><circle cx="393" cy="429" r="5"/><circle cx="391.5" cy="439" r="5"/><circle cx="403" cy="363" r="5"/><circle cx="407" cy="352" r="5"/><circle cx="389" cy="457" r="5"/><circle cx="387.5" cy="462" r="5"/><circle cx="423.1" cy="101.9" r="5"/><circle cx="365" cy="152.5" r="5"/><circle cx="360.6" cy="159.4" r="5"/><circle cx="376.25" cy="163.75" r="5"/><circle cx="361.25" cy="161.25" r="5"/><circle cx="376.25" cy="164.4" r="5"/></g>
<g fill="#f883f5"><circle cx="670.0" cy="87.1" r="5"/><circle cx="667.9" cy="86.9" r="5"/><circle cx="665.9" cy="86.9" r="5"/><circle cx="663.8" cy="86.7" r="5"/><circle cx="661.8" cy="87.4" r="5"/><circle cx="659.8" cy="87.0" r="5"/><circle cx="658.0" cy="89.7" r="5"/><circle cx="655.8" cy="88.7" r="5"/><circle cx="653.7" cy="87.5" r="5"/><circle cx="651.7" cy="88.5" r="5"/><circle cx="649.7" cy="87.9" r="5"/><circle cx="647.8" cy="90.3" r="5"/><circle cx="645.7" cy="89.5" r="5"/><circle cx="643.7" cy="90.3" r="5"/><circle cx="641.6" cy="89.6" r="5"/><circle cx="639.6" cy="89.7" r="5"/><circle cx="637.7" cy="91.4" r="5"/><circle cx="635.6" cy="91.0" r="5"/><circle cx="633.6" cy="91.0" r="5"/><circle cx="631.4" cy="89.4" r="5"/><circle cx="629.3" cy="90.0" r="5"/><circle cx="627.8" cy="92.2" r="5"/><circle cx="625.4" cy="91.0" r="5"/><circle cx="624.0" cy="93.4" r="5"/><circle cx="621.7" cy="92.7" r="5"/><circle cx="620.2" cy="94.5" r="5"/><circle cx="618.4" cy="95.4" r="5"/><circle cx="615.8" cy="93.7" r="5"/><circle cx="614.4" cy="96.0" r="5"/><circle cx="612.4" cy="96.6" r="5"/><circle cx="609.9" cy="95.1" r="5"/><circle cx="608.1" cy="96.0" r="5"/><circle cx="606.6" cy="98.1" r="5"/><circle cx="604.2" cy="96.9" r="5"/><circle cx="602.6" cy="98.6" r="5"/><circle cx="600.5" cy="98.7" r="5"/><circle cx="599.0" cy="100.6" r="5"/><circle cx="596.5" cy="99.2" r="5"/><circle cx="594.8" cy="100.4" r="5"/><circle cx="592.6" cy="100.3" r="5"/><circle cx="590.6" cy="101.1" r="5"/><circle cx="589.2" cy="103.4" r="5"/><circle cx="587.1" cy="103.9" r="5"/><circle cx="585.3" cy="105.1" r="5"/><circle cx="583.3" cy="105.8" r="5"/><circle cx="581.4" cy="106.7" r="5"/><circle cx="579.2" cy="106.8" r="5"/><circle cx="576.9" cy="106.7" r="5"/><circle cx="575.4" cy="108.9" r="5"/><circle cx="572.8" cy="107.8" r="5"/><circle cx="571.1" cy="109.4" r="5"/><circle cx="569.2" cy="110.1" r="5"/><circle cx="566.7" cy="109.5" r="5"/><circle cx="565.0" cy="111.1" r="5"/><circle cx="563.3" cy="112.2" r="5"/><circle cx="561.2" cy="112.6" r="5"/><circle cx="559.0" cy="112.8" r="5"/><circle cx="557.8" cy="115.2" r="5"/><circle cx="554.9" cy="113.6" r="5"/><circle cx="554.0" cy="116.9" r="5"/><circle cx="551.3" cy="115.7" r="5"/><circle cx="549.3" cy="116.3" r="5"/><circle cx="548.2" cy="119.2" r="5"/><circle cx="545.5" cy="117.9" r="5"/><circle cx="544.0" cy="119.8" r="5"/><circle cx="541.8" cy="120.0" r="5"/><circle cx="540.8" cy="122.1" r="5"/><circle cx="539.0" cy="123.3" r="5"/><circle cx="537.1" cy="124.2" r="5"/><circle cx="534.1" cy="123.6" r="5"/><circle cx="533.7" cy="126.6" r="5"/><circle cx="531.1" cy="126.6" r="5"/><circle cx="529.1" cy="127.4" r="5"/><circle cx="527.3" cy="128.6" r="5"/><circle cx="526.6" cy="131.2" r="5"/><circle cx="524.9" cy="132.4" r="5"/><circle cx="522.9" cy="133.2" r="5"/><circle cx="520.6" cy="134.1" r="5"/><circle cx="521.1" cy="136.9" r="5"/><circle cx="518.4" cy="137.7" r="5"/><circle cx="517.2" cy="139.5" r="5"/><circle cx="515.9" cy="141.2" r="5"/><circle cx="516.7" cy="144.2" r="5"/><circle cx="513.4" cy="144.6" r="5"/><circle cx="514.3" cy="147.7" r="5"/><circle cx="512.6" cy="149.1" r="5"/><circle cx="510.9" cy="150.5" r="5"/><circle cx="509.1" cy="151.7" r="5"/><circle cx="508.9" cy="154.4" r="5"/><circle cx="506.3" cy="154.9" r="5"/><circle cx="505.6" cy="157.2" r="5"/><circle cx="504.7" cy="159.3" r="5"/><circle cx="503.2" cy="160.9" r="5"/><circle cx="502.1" cy="162.7" r="5"/><circle cx="500.9" cy="164.5" r="5"/><circle cx="499.5" cy="165.9" r="5"/><circle cx="497.1" cy="166.5" r="5"/><circle cx="495.2" cy="167.6" r="5"/><circle cx="495.7" cy="170.6" r="5"/><circle cx="494.7" cy="172.4" r="5"/><circle cx="491.4" cy="172.3" r="5"/><circle cx="491.2" cy="174.6" r="5"/><circle cx="490.2" cy="176.3" r="5"/><circle cx="490.0" cy="178.5" r="5"/><circle cx="488.3" cy="180.1" r="5"/><circle cx="487.0" cy="181.8" r="5"/><circle cx="487.3" cy="184.1" r="5"/><circle cx="486.6" cy="186.1" r="5"/><circle cx="486.9" cy="188.5" r="5"/><circle cx="483.9" cy="189.5" r="5"/><circle cx="485.3" cy="192.6" r="5"/><circle cx="483.1" cy="194.1" r="5"/><circle cx="481.3" cy="195.7" r="5"/><circle cx="482.2" cy="198.6" r="5"/><circle cx="479.7" cy="199.9" r="5"/><circle cx="478.2" cy="201.7" r="5"/><circle cx="478.1" cy="204.1" r="5"/><circle cx="476.7" cy="206.0" r="5"/><circle cx="477.9" cy="208.6" r="5"/><circle cx="476.4" cy="210.4" r="5"/><circle cx="476.6" cy="212.6" r="5"/><circle cx="474.1" cy="214.1" r="5"/><circle cx="474.9" cy="216.6" r="5"/><circle cx="473.9" cy="218.5" r="5"/><circle cx="471.8" cy="220.1" r="5"/><circle cx="471.5" cy="222.2" r="5"/><circle cx="470.7" cy="224.2" r="5"/><circle cx="471.5" cy="226.6" r="5"/><circle cx="470.9" cy="228.6" r="5"/><circle cx="469.7" cy="230.4" r="5"/><circle cx="469.8" cy="232.7" r="5"/><circle cx="469.7" cy="234.8" r="5"/><circle cx="468.9" cy="236.8" r="5"/><circle cx="469.0" cy="239.0" r="5"/><circle cx="467.8" cy="240.8" r="5"/><circle cx="466.1" cy="243.0" r="5"/><circle cx="466.2" cy="245.3" r="5"/><circle cx="467.1" cy="247.6" r="5"/><circle cx="467.5" cy="249.9" r="5"/><circle cx="468.0" cy="252.2" r="5"/><circle cx="468.6" cy="255.0" r="5"/><circle cx="467.3" cy="256.7" r="5"/><circle cx="465.1" cy="258.1" r="5"/><circle cx="464.1" cy="259.9" r="5"/><circle cx="464.5" cy="262.4" r="5"/><circle cx="462.6" cy="263.9" r="5"/><circle cx="461.8" cy="265.9" r="5"/><circle cx="461.2" cy="267.9" r="5"/><circle cx="460.4" cy="269.9" r="5"/><circle cx="459.3" cy="271.8" r="5"/><circle cx="459.6" cy="274.3" r="5"/><circle cx="458.0" cy="276.1" r="5"/><circle cx="458.4" cy="278.6" r="5"/><circle cx="457.2" cy="280.6" r="5"/><circle cx="455.7" cy="282.5" r="5"/><circle cx="455.2" cy="284.7" r="5"/><circle cx="455.5" cy="287.3" r="5"/><circle cx="452.9" cy="288.2" r="5"/><circle cx="452.6" cy="290.5" r="5"/><circle cx="451.7" cy="292.4" r="5"/><circle cx="452.0" cy="295.0" r="5"/><circle cx="449.7" cy="296.1" r="5"/><circle cx="448.75" cy="298" r="5"/></g>
<g fill="#f883f5"><circle cx="540" cy="112" r="5"/><circle cx="527.5" cy="121.25" r="5"/><circle cx="520" cy="131" r="5"/><circle cx="480" cy="175" r="5"/><circle cx="470" cy="201.25" r="5"/><circle cx="457.5" cy="242" r="5"/><circle cx="448.75" cy="301.25" r="5"/><circle cx="457.5" cy="309.4" r="5"/><circle cx="456.25" cy="320" r="5"/><circle cx="456.25" cy="325" r="5"/><circle cx="454.4" cy="331.25" r="5"/><circle cx="456.25" cy="337.5" r="5"/><circle cx="455.6" cy="346.25" r="5"/><circle cx="455" cy="356.9" r="5"/><circle cx="446.9" cy="365" r="5"/><circle cx="423.1" cy="373.1" r="5"/><circle cx="453.75" cy="373.75" r="5"/><circle cx="453.1" cy="379.9" r="5"/><circle cx="450.6" cy="395.5" r="5"/><circle cx="450.6" cy="399.9" r="5"/><circle cx="451.9" cy="410.5" r="5"/><circle cx="450" cy="418" r="5"/><circle cx="450" cy="426.75" r="5"/><circle cx="418.1" cy="445.6" r="5"/><circle cx="447.5" cy="446.9" r="5"/><circle cx="442.5" cy="463.1" r="5"/><circle cx="452" cy="305" r="5"/><circle cx="456" cy="315" r="5"/></g>
</g>
<rect x="160.5" y="54.5" width="511.0" height="421.0" fill="none" stroke="#000" stroke-width="1.4"/>
<line x1="152.5" y1="54.5" x2="160.5" y2="54.5" stroke="#000" stroke-width="1.4"/>
<text x="146.6" y="59.3" font-size="17.5" text-anchor="end" fill="#000">0</text>
<line x1="156.5" y1="96.6" x2="160.5" y2="96.6" stroke="#000" stroke-width="1.4"/>
<line x1="152.5" y1="138.7" x2="160.5" y2="138.7" stroke="#000" stroke-width="1.4"/>
<text x="146.6" y="143.5" font-size="17.5" text-anchor="end" fill="#000">-50</text>
<line x1="156.5" y1="180.8" x2="160.5" y2="180.8" stroke="#000" stroke-width="1.4"/>
<line x1="152.5" y1="222.9" x2="160.5" y2="222.9" stroke="#000" stroke-width="1.4"/>
<text x="146.6" y="227.70000000000002" font-size="17.5" text-anchor="end" fill="#000">-100</text>
<line x1="156.5" y1="265.0" x2="160.5" y2="265.0" stroke="#000" stroke-width="1.4"/>
<line x1="152.5" y1="307.1" x2="160.5" y2="307.1" stroke="#000" stroke-width="1.4"/>
<text x="146.6" y="311.90000000000003" font-size="17.5" text-anchor="end" fill="#000">-150</text>
<line x1="156.5" y1="349.2" x2="160.5" y2="349.2" stroke="#000" stroke-width="1.4"/>
<line x1="152.5" y1="391.3" x2="160.5" y2="391.3" stroke="#000" stroke-width="1.4"/>
<text x="146.6" y="396.1" font-size="17.5" text-anchor="end" fill="#000">-200</text>
<line x1="156.5" y1="433.40000000000003" x2="160.5" y2="433.40000000000003" stroke="#000" stroke-width="1.4"/>
<line x1="152.5" y1="475.5" x2="160.5" y2="475.5" stroke="#000" stroke-width="1.4"/>
<text x="146.6" y="480.3" font-size="17.5" text-anchor="end" fill="#000">-250</text>
<line x1="160.5" y1="475.5" x2="160.5" y2="483.5" stroke="#000" stroke-width="1.4"/>
<text x="160.2" y="503" font-size="17.5" text-anchor="middle" fill="#000">-1.3</text>
<line x1="211.60000000000005" y1="475.5" x2="211.60000000000005" y2="479.5" stroke="#000" stroke-width="1.4"/>
<line x1="262.7000000000001" y1="475.5" x2="262.7000000000001" y2="483.5" stroke="#000" stroke-width="1.4"/>
<text x="262.4000000000001" y="503" font-size="17.5" text-anchor="middle" fill="#000">-1.2</text>
<line x1="313.8000000000001" y1="475.5" x2="313.8000000000001" y2="479.5" stroke="#000" stroke-width="1.4"/>
<line x1="364.9" y1="475.5" x2="364.9" y2="483.5" stroke="#000" stroke-width="1.4"/>
<text x="364.59999999999997" y="503" font-size="17.5" text-anchor="middle" fill="#000">-1.1</text>
<line x1="416.0" y1="475.5" x2="416.0" y2="479.5" stroke="#000" stroke-width="1.4"/>
<line x1="467.1" y1="475.5" x2="467.1" y2="483.5" stroke="#000" stroke-width="1.4"/>
<text x="466.8" y="503" font-size="17.5" text-anchor="middle" fill="#000">-1.0</text>
<line x1="518.2" y1="475.5" x2="518.2" y2="479.5" stroke="#000" stroke-width="1.4"/>
<line x1="569.3" y1="475.5" x2="569.3" y2="483.5" stroke="#000" stroke-width="1.4"/>
<text x="569.0" y="503" font-size="17.5" text-anchor="middle" fill="#000">-0.9</text>
<line x1="620.4" y1="475.5" x2="620.4" y2="479.5" stroke="#000" stroke-width="1.4"/>
<line x1="671.5" y1="475.5" x2="671.5" y2="483.5" stroke="#000" stroke-width="1.4"/>
<text x="671.2" y="503" font-size="17.5" text-anchor="middle" fill="#000">-0.8</text>
<text x="415.5" y="537" font-size="21.3" text-anchor="middle" fill="#000">E [V vs. RHE]</text>
<text transform="translate(102.4,265) rotate(-90)" font-size="21.6" text-anchor="middle" fill="#000">i [mA/cm-2]</text>
<text x="469.5" y="380.4" font-size="16.2" textLength="65" lengthAdjust="spacingAndGlyphs" fill="#111">~ 200 mV</text>
<rect x="541.5" y="345" width="122.5" height="124.5" fill="#fff"/>
<path d="M541.5,469.5 H664 V345" fill="none" stroke="#a9a9a9" stroke-width="1.6"/>
<path d="M664,345 H541.5 V469.5" fill="none" stroke="#7c7c7c" stroke-width="1.6"/>
<circle cx="566" cy="358.7" r="4.8" fill="#000000"/>
<text x="592.3" y="364.59999999999997" font-size="19.5" fill="#000">50C-2:0</text>
<circle cx="566" cy="382.9" r="4.8" fill="#eb3f3d"/>
<text x="592.3" y="388.79999999999995" font-size="19.5" fill="#000">50C-2:1</text>
<circle cx="566" cy="407.09999999999997" r="4.8" fill="#00f0f0"/>
<text x="592.3" y="412.99999999999994" font-size="19.5" fill="#000">50C-1:1</text>
<circle cx="566" cy="431.29999999999995" r="4.8" fill="#00007e"/>
<text x="592.3" y="437.19999999999993" font-size="19.5" fill="#000">50C-1:2</text>
<circle cx="566" cy="455.5" r="4.8" fill="#f883f5"/>
<text x="592.3" y="461.4" font-size="19.5" fill="#000">50C-1:4</text>
<path d="M862,59.5 L983,57 L983,72 L862,72 Z" fill="#000"/>
<path d="M1008.9,59.8 L1018.4,60.2 L1018.4,52 A48.5,42 0 0 1 1115.4,52 L1115.4,61.3 L1129,61.3 L1129,69.7 L1008.9,69.7 Z" fill="#000"/>
<path d="M1051.7,46.6 C1053,43.5 1060,42 1067,42.2 C1074,42.3 1080,42.5 1083,44 C1084.6,46 1083.2,49 1081.5,49.6 C1079,48.6 1076,48.6 1074.5,50.3 L1072.4,53.2 C1071,50 1069,47.5 1066,45.8 C1062,44 1057,44 1054,45.5 C1053,46 1052,46.7 1051.7,46.6 Z" fill="#fff"/>
<rect x="859.8" y="74.5" width="271.4" height="152.5" fill="#fff" stroke="#8a8a8a" stroke-width="1.2"/>
<line x1="860.5" y1="112.6" x2="1130.5" y2="112.6" stroke="#d9d9d9" stroke-width="1"/>
<line x1="860.5" y1="151.2" x2="1130.5" y2="151.2" stroke="#d9d9d9" stroke-width="1"/>
<line x1="860.5" y1="189.1" x2="1130.5" y2="189.1" stroke="#d9d9d9" stroke-width="1"/>
<line x1="859.8" y1="74.5" x2="859.8" y2="227.2" stroke="#505050" stroke-width="1.2"/>
<line x1="859.5" y1="227.2" x2="1131.5" y2="227.2" stroke="#333" stroke-width="1.4"/>
<text x="847.6" y="79.6" font-size="13.8" text-anchor="end" fill="#000">120</text>
<text x="847.6" y="117.69999999999999" font-size="13.8" text-anchor="end" fill="#000">90</text>
<text x="847.6" y="156.29999999999998" font-size="13.8" text-anchor="end" fill="#000">60</text>
<text x="847.6" y="194.2" font-size="13.8" text-anchor="end" fill="#000">30</text>
<text x="847.6" y="232.29999999999998" font-size="13.8" text-anchor="end" fill="#000">0</text>
<rect x="906.4" y="223.8" width="42.4" height="3.4" fill="#4472c4"/>
<rect x="1041.5" y="88.3" width="43.1" height="138.9" fill="#00ffff" stroke="#0b5e66" stroke-width="1.1"/>
<text transform="translate(813.8,155) rotate(-90)" font-size="19.5" text-anchor="middle" fill="#000">Contact angle θ [°]</text>
<text x="926" y="253.5" font-size="19.5" text-anchor="middle" fill="#000">Ag foam</text>
<text x="1066" y="253.5" font-size="19" text-anchor="middle" fill="#000">7.5 wt.%</text>
<defs><pattern id="hatch" width="6" height="6" patternUnits="userSpaceOnUse" x="1012.3" y="384.4"><rect width="6" height="6" fill="#f588f5"/><path d="M0,0 L6,6 M6,0 L0,6" stroke="#4a1050" stroke-width="0.95"/></pattern></defs>
<rect x="875.6" y="311.1" width="109" height="190.7" fill="#ff7dff" stroke="#5a1a5a" stroke-width="1"/>
<rect x="1011.5" y="384.3" width="109.3" height="117.5" fill="url(#hatch)" stroke="#3a0a3e" stroke-width="1"/>
<rect x="862.6" y="283.3" width="271" height="218.6" fill="none" stroke="#555" stroke-width="1.3"/>
<line x1="857.6" y1="501.8" x2="862.6" y2="501.8" stroke="#555" stroke-width="1"/>
<text x="854" y="504.7" font-size="10.3" letter-spacing="-0.6" text-anchor="end" fill="#222">0</text>
<line x1="859.6" y1="474.475" x2="862.6" y2="474.475" stroke="#555" stroke-width="1"/>
<line x1="857.6" y1="447.15000000000003" x2="862.6" y2="447.15000000000003" stroke="#555" stroke-width="1"/>
<text x="854" y="450.05" font-size="10.3" letter-spacing="-0.6" text-anchor="end" fill="#222">20</text>
<line x1="859.6" y1="419.825" x2="862.6" y2="419.825" stroke="#555" stroke-width="1"/>
<line x1="857.6" y1="392.5" x2="862.6" y2="392.5" stroke="#555" stroke-width="1"/>
<text x="854" y="395.4" font-size="10.3" letter-spacing="-0.6" text-anchor="end" fill="#222">40</text>
<line x1="859.6" y1="365.17499999999995" x2="862.6" y2="365.17499999999995" stroke="#555" stroke-width="1"/>
<line x1="857.6" y1="337.85" x2="862.6" y2="337.85" stroke="#555" stroke-width="1"/>
<text x="854" y="340.75" font-size="10.3" letter-spacing="-0.6" text-anchor="end" fill="#222">60</text>
<line x1="859.6" y1="310.525" x2="862.6" y2="310.525" stroke="#555" stroke-width="1"/>
<line x1="857.6" y1="283.20000000000005" x2="862.6" y2="283.20000000000005" stroke="#555" stroke-width="1"/>
<text x="854" y="286.1" font-size="10.3" letter-spacing="-0.6" text-anchor="end" fill="#222">80</text>
<path d="M929.8,308.7 V313 M927.8,308.7 H931.8 M927.8,313 H931.8" stroke="#222" stroke-width="1"/>
<path d="M1065.6,379.3 V388 M1063.6,379.3 H1067.6" stroke="#222" stroke-width="1"/>
<text transform="translate(832.1,403.7) rotate(-90)" font-size="22" text-anchor="middle" fill="#000">ECSA [cm²]</text>
<text x="930" y="526.5" font-size="19.5" text-anchor="middle" fill="#000">No ionomer</text>
<text x="1070" y="526.5" font-size="19" text-anchor="middle" fill="#000">7.5 wt.%</text>
<text x="4" y="578" font-size="21.1" textLength="1209.3" lengthAdjust="spacing" fill="#000">Figure 1: Linear sweep voltammetry scans of Ag-based GDEs manufactured by electrochemical deposition (left) and the influence</text>
<text x="4.2" y="603" font-size="21.1" textLength="1098.3" lengthAdjust="spacing" fill="#000">of ionomer infiltration on the hydrophobic behaviour and the electrochemical surface area of the obtained electrodes.</text>
<rect x="542.8" y="625" width="1.5" height="3" fill="#000"/>
<ellipse cx="130" cy="0" rx="4" ry="1.3" fill="#000"/>
<ellipse cx="343" cy="0" rx="2" ry="1.3" fill="#000"/>
<ellipse cx="546" cy="0" rx="2" ry="1.3" fill="#000"/>
</svg></body></html>
